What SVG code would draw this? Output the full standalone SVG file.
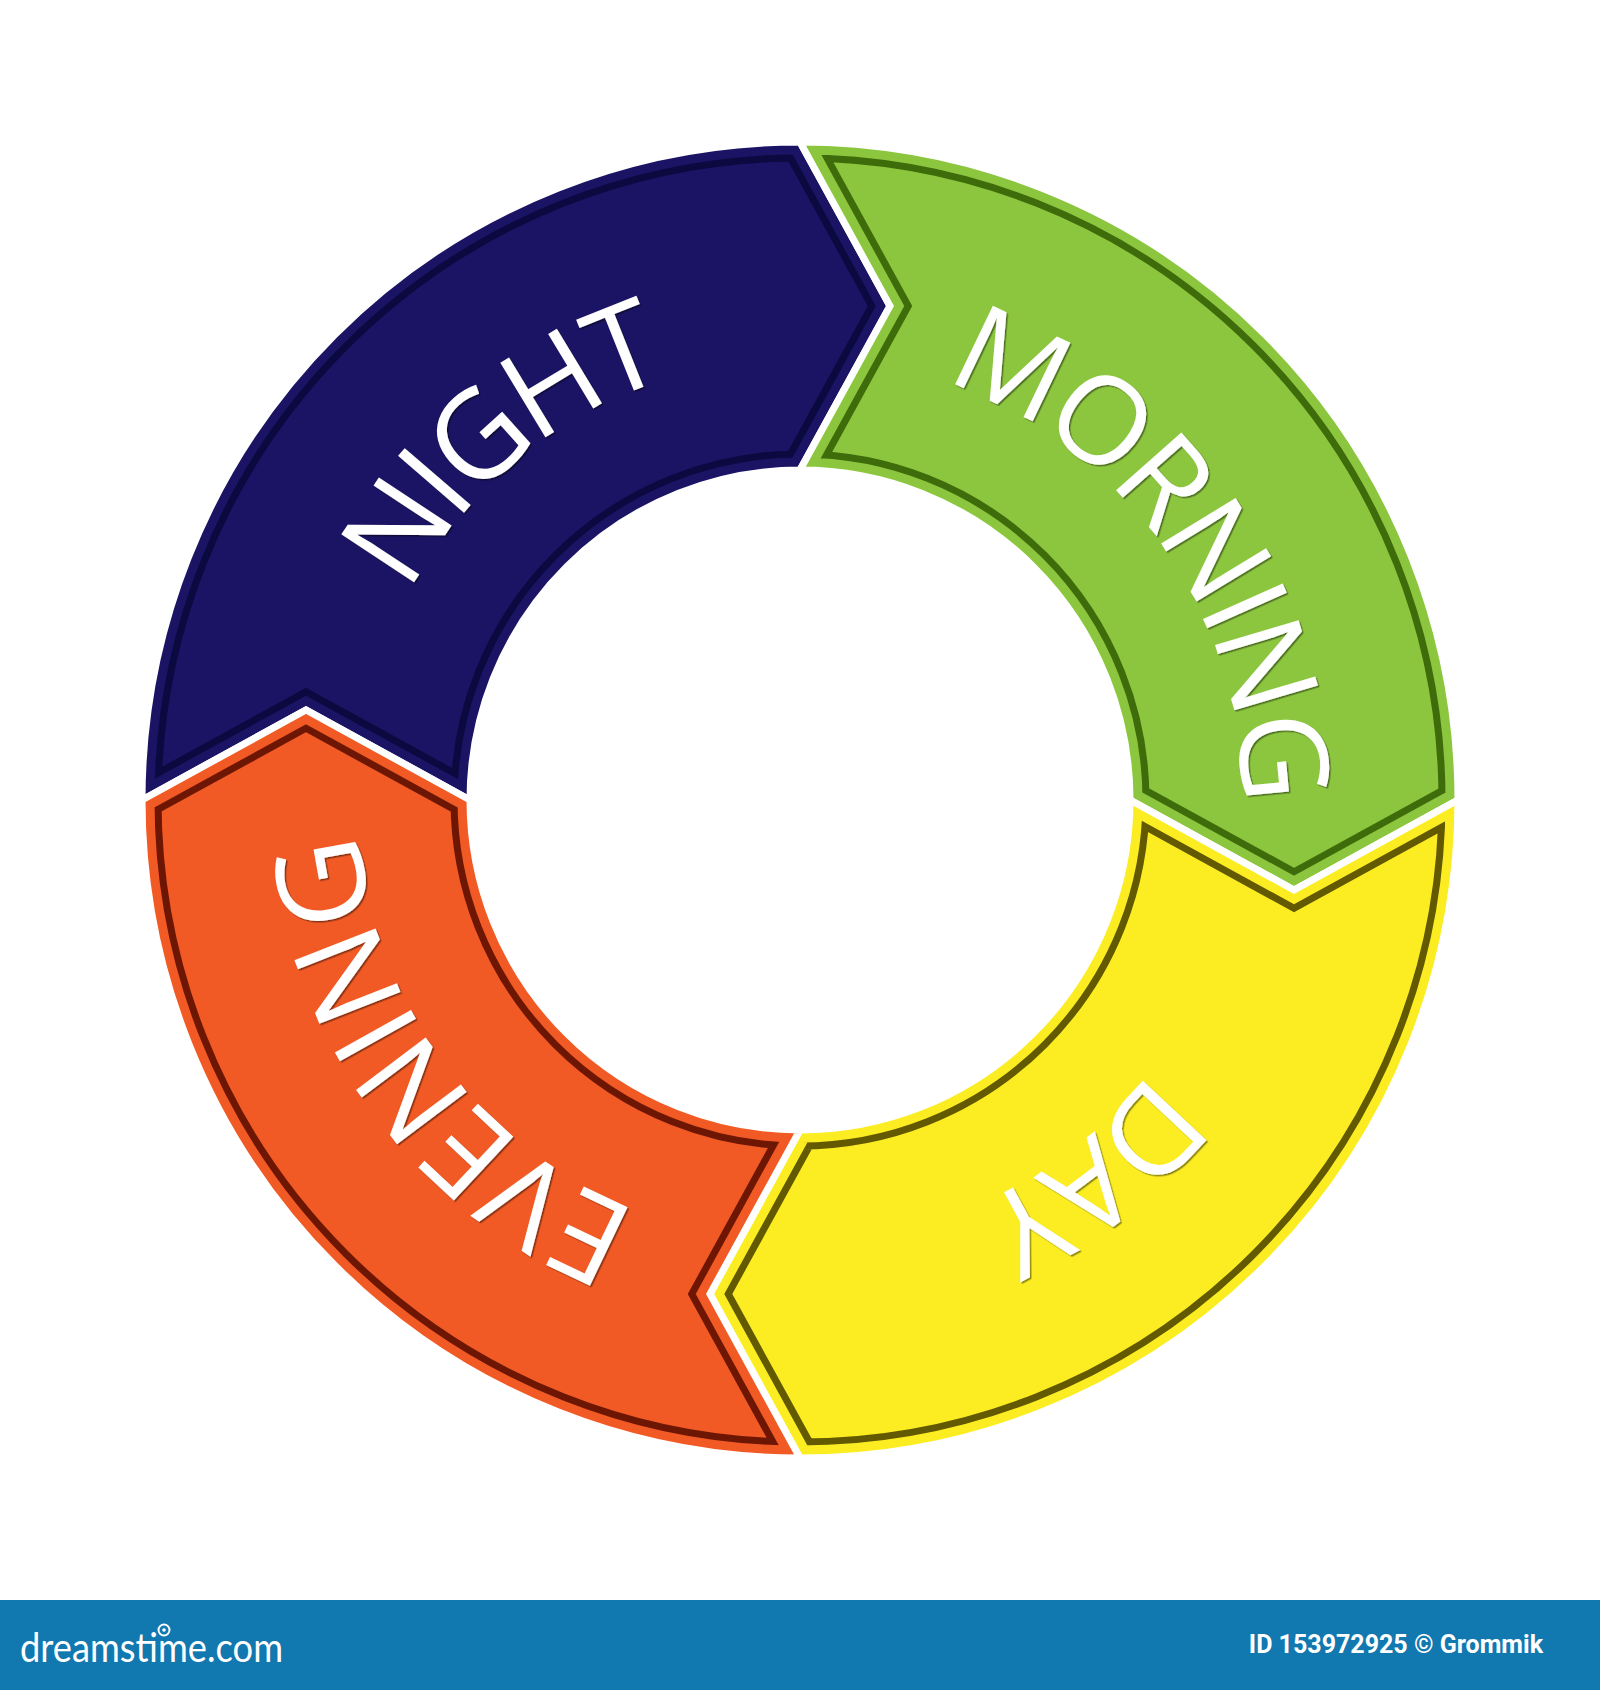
<svg xmlns="http://www.w3.org/2000/svg" xmlns:xlink="http://www.w3.org/1999/xlink" width="1600" height="1690" viewBox="0 0 1600 1690">
<style>
.lbl{font-family:"Open Sans","Noto Sans","DejaVu Sans",sans-serif;font-size:122px;fill:#ffffff;text-anchor:middle}
.gap{fill:none;stroke:#ffffff;stroke-width:7;stroke-linejoin:miter}
.ol{fill:none;stroke-width:39;stroke-linejoin:miter;stroke-miterlimit:10}
.in{fill:none;stroke-width:25;stroke-linejoin:miter;stroke-miterlimit:10}
</style>
<defs>
<path id="pNight" d="M142,800 A658,658 0 0 1 800,142 L890,306 L800,470 A330,330 0 0 0 470,800 L306,710 Z"/>
<path id="pMorning" d="M800,142 A658,658 0 0 1 1458,800 L1294,890 L1130,800 A330,330 0 0 0 800,470 L890,306 Z"/>
<path id="pDay" d="M1458,800 A658,658 0 0 1 800,1458 L710,1294 L800,1130 A330,330 0 0 0 1130,800 L1294,890 Z"/>
<path id="pEvening" d="M800,1458 A658,658 0 0 1 142,800 L306,710 L470,800 A330,330 0 0 0 800,1130 L710,1294 Z"/>
<path id="ring" d="M800,1242 A442,442 0 1 1 800,358 A442,442 0 1 1 800,1242"/>
<clipPath id="cNight"><use xlink:href="#pNight"/></clipPath>
<clipPath id="cMorning"><use xlink:href="#pMorning"/></clipPath>
<clipPath id="cDay"><use xlink:href="#pDay"/></clipPath>
<clipPath id="cEvening"><use xlink:href="#pEvening"/></clipPath>
<filter id="sh" x="-10%" y="-10%" width="120%" height="120%">
<feDropShadow dx="1.5" dy="1.5" stdDeviation="0.6" flood-color="#000000" flood-opacity="0.45"/>
</filter>
</defs>
<rect x="0" y="0" width="1600" height="1690" fill="#ffffff"/>

<g id="night">
<g clip-path="url(#cNight)">
<use xlink:href="#pNight" fill="#1b1464"/>
<use xlink:href="#pNight" class="ol" stroke="#0b0a40"/>
<use xlink:href="#pNight" class="in" stroke="#1b1464"/>
</g>
<use xlink:href="#pNight" class="gap"/>
<text class="lbl" style="letter-spacing:-6px" filter="url(#sh)"><textPath xlink:href="#ring" startOffset="1080">NIGHT</textPath></text>
</g>

<g id="morning">
<g clip-path="url(#cMorning)">
<use xlink:href="#pMorning" fill="#8cc63f"/>
<use xlink:href="#pMorning" class="ol" stroke="#3e6c0b"/>
<use xlink:href="#pMorning" class="in" stroke="#8cc63f"/>
</g>
<use xlink:href="#pMorning" class="gap"/>
<text class="lbl" style="letter-spacing:-5.5px" filter="url(#sh)"><textPath xlink:href="#ring" startOffset="1808">MORNING</textPath></text>
</g>

<g id="day">
<g clip-path="url(#cDay)">
<use xlink:href="#pDay" fill="#fbed21"/>
<use xlink:href="#pDay" class="ol" stroke="#625900"/>
<use xlink:href="#pDay" class="in" stroke="#fbed21"/>
</g>
<use xlink:href="#pDay" class="gap"/>
<text class="lbl" style="letter-spacing:-7px" filter="url(#sh)"><textPath xlink:href="#ring" startOffset="2480">DAY</textPath></text>
</g>

<g id="evening">
<g clip-path="url(#cEvening)">
<use xlink:href="#pEvening" fill="#f15a24"/>
<use xlink:href="#pEvening" class="ol" stroke="#6e1604"/>
<use xlink:href="#pEvening" class="in" stroke="#f15a24"/>
</g>
<use xlink:href="#pEvening" class="gap"/>
<text class="lbl" style="letter-spacing:-3px" filter="url(#sh)"><textPath xlink:href="#ring" startOffset="412">EVENING</textPath></text>
</g>

<g id="connectors"></g>

<g id="banner">
<rect x="0" y="1600" width="1600" height="90" fill="#1178b0"/>
<text x="20" y="1662" textLength="263" lengthAdjust="spacingAndGlyphs" style="font-family:'Lato','Open Sans',sans-serif;font-size:40px;fill:#ffffff">dreamstime.com</text>
<circle cx="164" cy="1630" r="5.5" fill="none" stroke="#ffffff" stroke-width="2"/>
<circle cx="164" cy="1630" r="1.8" fill="#ffffff"/>
<text x="1543" y="1653" text-anchor="end" style="font-family:Roboto,'Liberation Sans',sans-serif;font-weight:bold;font-size:25px;fill:#ffffff">ID 153972925 © Grommik</text>
</g>
</svg>
